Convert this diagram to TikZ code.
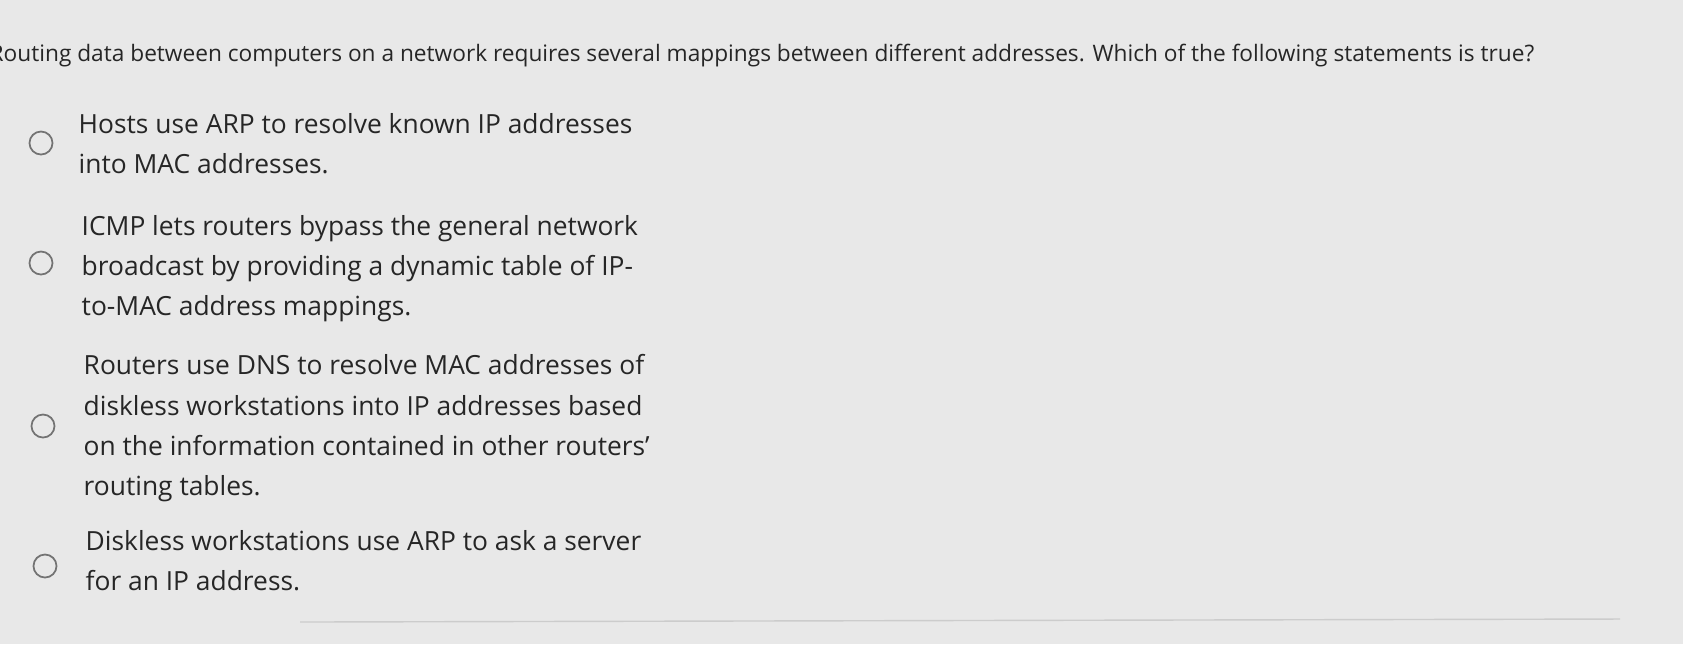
\documentclass[tikz,border=0pt]{standalone}
\usepackage{fontspec}
\setmainfont{Open Sans}
\begin{document}
\begin{tikzpicture}[x=0.01cm,y=-0.01cm,
  opt/.style={anchor=north west,align=left,inner sep=0pt,font=\fontsize{7.5pt}{11.4pt}\selectfont,text=black!85},
  radio/.style={circle,draw=black!55,line width=0.5pt,minimum size=0.23cm,inner sep=0pt}]
\fill[gray!18] (0,0) rectangle (1683,644);
\useasboundingbox (0,0) rectangle (1683,644);
\clip (0,0) rectangle (1683,644);
\draw[black!20,line width=0.4pt] (300,622) -- (1620,619);
\node[opt,anchor=base west,font=\fontsize{6.45pt}{7pt}\selectfont] (q) at (-11,61) {Routing data between computers on a network requires several mappings between different addresses. Which of the following statements is true?};
\node[radio] (r1) at (41,143) {};
\node[radio] (r2) at (41,263) {};
\node[radio] (r3) at (43,426) {};
\node[radio] (r4) at (45,566) {};
\node[opt] (o1) at (78,113) {Hosts use ARP to resolve known IP addresses\\into MAC addresses.};
\node[opt] (o2) at (81,215) {ICMP lets routers bypass the general network\\broadcast by providing a dynamic table of IP-\\to-MAC address mappings.};
\node[opt] (o3) at (83,354) {Routers use DNS to resolve MAC addresses of\\diskless workstations into IP addresses based\\on the information contained in other routers'\\routing tables.};
\node[opt] (o4) at (85,530) {Diskless workstations use ARP to ask a server\\for an IP address.};
\end{tikzpicture}
\end{document}
